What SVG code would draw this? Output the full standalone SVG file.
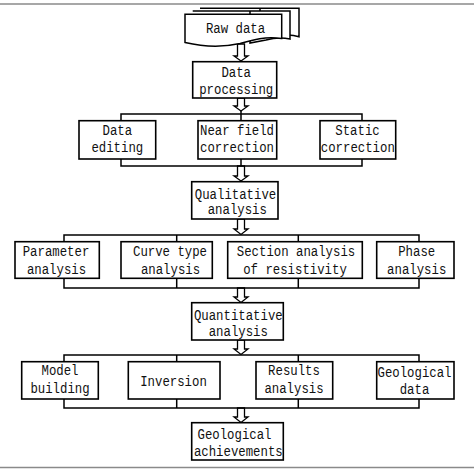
<svg xmlns="http://www.w3.org/2000/svg" width="474" height="474" viewBox="0 0 474 474">
<style>
.box{fill:#fff;stroke:#000;stroke-width:1.6}
.doc{fill:#fff;stroke:#000;stroke-width:1.5}
.ln{fill:none;stroke:#000;stroke-width:1.5}
.arr{fill:#fff;stroke:#000;stroke-width:1.3}
text{font-family:"Liberation Mono","DejaVu Sans Mono",monospace;font-size:14.3px;fill:#111;text-anchor:middle}
</style>
<rect width="474" height="474" fill="#fff"/>
<line x1="0" y1="4" x2="474" y2="4" stroke="#8a8a8a" stroke-width="1.6"/>
<line x1="0" y1="467.5" x2="474" y2="467.5" stroke="#8a8a8a" stroke-width="1.6"/>

<g id="connectors">
  <polygon class="arr" points="237.5,44 237.5,56 234,56 241,61 248,56 244.5,56 244.5,44"/>
  <polygon class="arr" points="237.5,98 237.5,106 234,106 241,111 248,106 244.5,106 244.5,98"/>
  <line class="ln" x1="241" y1="111" x2="241" y2="114"/>
  <polygon class="arr" points="237.5,166 237.5,176 234,176 241,181 248,176 244.5,176 244.5,166"/>
  <polygon class="arr" points="237.5,219 237.5,229 234,229 241,234.5 248,229 244.5,229 244.5,219"/>
  <polygon class="arr" points="237.5,288 237.5,297 234,297 241,302.5 248,297 244.5,297 244.5,288"/>
  <polygon class="arr" points="237.5,340 237.5,349 234,349 241,354.5 248,349 244.5,349 244.5,340"/>
  <polygon class="arr" points="237.5,408 237.5,417 234,417 241,422.5 248,417 244.5,417 244.5,408"/>
  <path class="ln" d="M121,120.7 V114 H362 V120.7 M241,114 V120.7"/>
  <path class="ln" d="M121,159 V166 H362 V159 M241,159 V166"/>
  <path class="ln" d="M64,241.7 V235 H419 V241.7 M176.7,235 V241.7 M298.3,235 V241.7"/>
  <path class="ln" d="M64,278.3 V288 H419 V278.3 M176.7,278.3 V288 M298.3,278.3 V288"/>
  <path class="ln" d="M64,361.7 V355 H419 V361.7 M176.7,355 V361.7 M298.3,355 V361.7"/>
  <path class="ln" d="M64,399 V408 H419 V399 M176.7,399 V408 M298.3,399 V408"/>
</g>

<g id="raw-data">
  <path class="doc" d="M200,8.3 H299 V36.7 C290,34 282,35 275,37 L260,40 V8.3 Z"/>
  <path class="doc" d="M192.7,11 H290 V39 C281,37 273,38 266,40 L250,43 V11 Z"/>
  <path class="doc" d="M185,14.3 H281.7 V38.5 C265,36 252,40 240,43.5 C220,48 200,46 185,42.5 Z"/>
  <text x="235.5" y="32.8" textLength="59.2" lengthAdjust="spacingAndGlyphs">Raw data</text>
</g>

<g id="data-processing">
  <rect class="box" x="192.7" y="61.7" width="84" height="36.3"/>
  <text x="236.2" y="77" textLength="29.6" lengthAdjust="spacingAndGlyphs">Data</text>
  <text x="236.2" y="93.5" textLength="74" lengthAdjust="spacingAndGlyphs">processing</text>
</g>

<g id="data-editing">
  <rect class="box" x="79" y="120.7" width="76.7" height="38.3"/>
  <text x="117.3" y="134.7" textLength="29.6" lengthAdjust="spacingAndGlyphs">Data</text>
  <text x="117.3" y="152.2" textLength="51.8" lengthAdjust="spacingAndGlyphs">editing</text>
</g>
<g id="near-field-correction">
  <rect class="box" x="198" y="120.7" width="78.7" height="38.3"/>
  <text x="237" y="134.7" textLength="74" lengthAdjust="spacingAndGlyphs">Near field</text>
  <text x="237" y="152.2" textLength="74" lengthAdjust="spacingAndGlyphs">correction</text>
</g>
<g id="static-correction">
  <rect class="box" x="320" y="120.7" width="75.7" height="38.3"/>
  <text x="357.5" y="134.7" textLength="44.4" lengthAdjust="spacingAndGlyphs">Static</text>
  <text x="357.8" y="152.2" textLength="74" lengthAdjust="spacingAndGlyphs">correction</text>
</g>

<g id="qualitative-analysis">
  <rect class="box" x="191.7" y="181.7" width="86.3" height="37.3"/>
  <text x="235.5" y="198.5" textLength="81.4" lengthAdjust="spacingAndGlyphs">Qualitative</text>
  <text x="237.3" y="214.2" textLength="59.2" lengthAdjust="spacingAndGlyphs">analysis</text>
</g>

<g id="parameter-analysis">
  <rect class="box" x="15" y="241.7" width="84.3" height="36.6"/>
  <text x="56" y="256.2" textLength="66.6" lengthAdjust="spacingAndGlyphs">Parameter</text>
  <text x="56.5" y="273.5" textLength="59.2" lengthAdjust="spacingAndGlyphs">analysis</text>
</g>
<g id="curve-type-analysis">
  <rect class="box" x="121" y="241.7" width="91.3" height="36.6"/>
  <text x="170" y="256.2" textLength="74" lengthAdjust="spacingAndGlyphs">Curve type</text>
  <text x="170.5" y="273.5" textLength="59.2" lengthAdjust="spacingAndGlyphs">analysis</text>
</g>
<g id="section-analysis">
  <rect class="box" x="227.7" y="241.7" width="134.6" height="36.6"/>
  <text x="296" y="256.2" textLength="118.4" lengthAdjust="spacingAndGlyphs">Section analysis</text>
  <text x="295" y="273.5" textLength="103.6" lengthAdjust="spacingAndGlyphs">of resistivity</text>
</g>
<g id="phase-analysis">
  <rect class="box" x="376.7" y="241.7" width="77.3" height="36.6"/>
  <text x="416.7" y="256.2" textLength="37" lengthAdjust="spacingAndGlyphs">Phase</text>
  <text x="416.7" y="273.5" textLength="59.2" lengthAdjust="spacingAndGlyphs">analysis</text>
</g>

<g id="quantitative-analysis">
  <rect class="box" x="191.7" y="302.7" width="91.6" height="37.3"/>
  <text x="238.3" y="319.5" textLength="88.8" lengthAdjust="spacingAndGlyphs">Quantitative</text>
  <text x="238.3" y="336.2" textLength="59.2" lengthAdjust="spacingAndGlyphs">analysis</text>
</g>

<g id="model-building">
  <rect class="box" x="21.7" y="361.7" width="76.6" height="37.3"/>
  <text x="60" y="375.2" textLength="37" lengthAdjust="spacingAndGlyphs">Model</text>
  <text x="60" y="392.5" textLength="59.2" lengthAdjust="spacingAndGlyphs">building</text>
</g>
<g id="inversion">
  <rect class="box" x="128.3" y="361.7" width="91.7" height="37.3"/>
  <text x="173.5" y="385.7" textLength="66.6" lengthAdjust="spacingAndGlyphs">Inversion</text>
</g>
<g id="results-analysis">
  <rect class="box" x="256" y="361.7" width="76.7" height="37.3"/>
  <text x="294" y="375.2" textLength="51.8" lengthAdjust="spacingAndGlyphs">Results</text>
  <text x="294" y="392.5" textLength="59.2" lengthAdjust="spacingAndGlyphs">analysis</text>
</g>
<g id="geological-data">
  <rect class="box" x="376.7" y="361.7" width="77.3" height="37.3"/>
  <text x="414.5" y="376.7" textLength="74" lengthAdjust="spacingAndGlyphs">Geological</text>
  <text x="414.5" y="393.5" textLength="29.6" lengthAdjust="spacingAndGlyphs">data</text>
</g>

<g id="geological-achievements">
  <rect class="box" x="191.7" y="422.7" width="91.6" height="37.3"/>
  <text x="234.5" y="439.2" textLength="74" lengthAdjust="spacingAndGlyphs">Geological</text>
  <text x="238.3" y="455.9" textLength="88.8" lengthAdjust="spacingAndGlyphs">achievements</text>
</g>
</svg>
